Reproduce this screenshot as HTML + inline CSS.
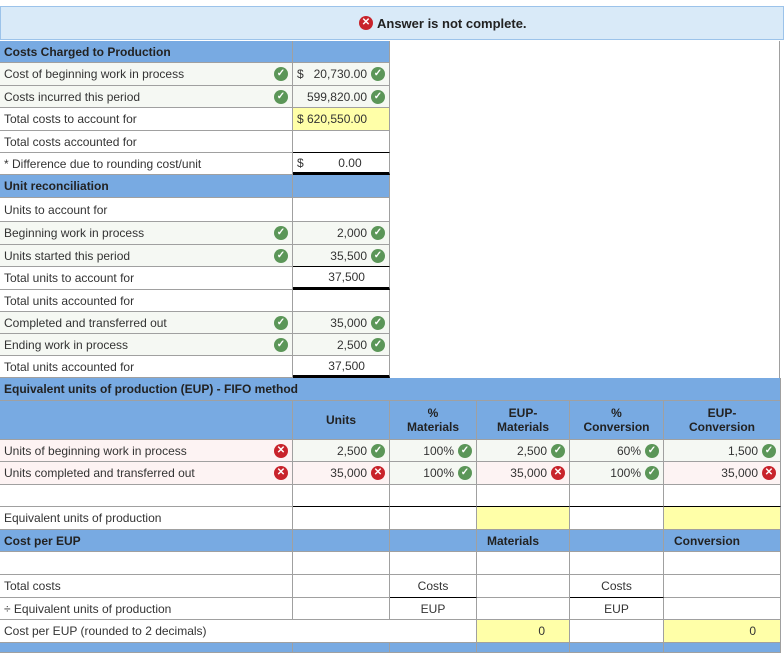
<!DOCTYPE html>
<html><head><meta charset="utf-8"><style>
body{margin:0;width:784px;height:650px;overflow:hidden;background:#fff;font-family:"Liberation Sans",Arial,sans-serif;position:relative}
.c{position:absolute;box-sizing:border-box;border-bottom:1px solid #a0a0a0;border-right:1px solid #a0a0a0;font-size:12px;color:#333;white-space:nowrap;display:flex;align-items:center;padding:0 4px;overflow:hidden}
.h{background:#78aae2;color:#222}
.ok{background:#f5f8f3}.bad{background:#fdf3f3}.y{background:#ffffa8}
.r{justify-content:flex-end}.m{justify-content:center;text-align:center}
.ic{display:inline-block;width:14px;height:14px;border-radius:50%;color:#fff;font-size:10px;line-height:14px;text-align:center;font-weight:bold;margin-left:4px;flex:none}
.g{background:#5b9658}.x{background:#c8232b}
</style></head><body>
<div style="position:absolute;left:0;top:6px;width:782px;height:32px;background:#d9eaf8;border:1px solid #9cc3ea;display:flex;align-items:center;box-sizing:content-box;padding-left:0;font-weight:bold;font-size:13px;color:#222"><span style="display:inline-block;width:358px"></span><span class="ic x" style="margin:0 4px 0 0">✕</span>Answer is not complete.</div>
<div style="position:absolute;left:779px;top:41px;width:1px;height:337px;background:#a0a0a0"></div>
<div id="t"></div>
<script>
const X=[0,293,390,477,570,664,781];
const t=document.getElementById('t');
function cell(c0,c1,top,h,cls,html,name,inter){
  const d=document.createElement('div');
  d.className='c '+cls;
  d.style.left=X[c0]+'px';d.style.top=top+'px';d.style.width=(X[c1]-X[c0])+'px';d.style.height=h+'px';
  d.innerHTML=html;
  
  
  t.appendChild(d);return d;
}
const G='<span class="ic g">✓</span>',R='<span class="ic x">✕</span>';
function lab(t,ic){return '<span style="flex:1">'+t+'</span>'+(ic||'');}
const topRows=[
[41,22,'Costs Charged to Production','h','', '', 'h','head'],
[63,23,'Cost of beginning work in process','ok',G,'<span style="flex:1">$</span>20,730.00'+G,'ok r'],
[86,22,'Costs incurred this period','ok',G,'599,820.00'+G,'ok r'],
[108,23,'Total costs to account for','','','<span style="flex:1">$ 620,550.00</span>','y'],
[131,22,'Total costs accounted for','','','',''],
[153,22,'* Difference due to rounding cost/unit','','','<span style="flex:1">$</span>0.00&nbsp;&nbsp;&nbsp;&nbsp;&nbsp;&nbsp;&nbsp;','r'],
[175,23,'Unit reconciliation','h','','','h','head'],
[198,24,'Units to account for','','','',''],
[222,23,'Beginning work in process','ok',G,'2,000'+G,'ok r'],
[245,22,'Units started this period','ok',G,'35,500'+G,'ok r'],
[267,23,'Total units to account for','','','37,500&nbsp;&nbsp;&nbsp;&nbsp;&nbsp;&nbsp;','r'],
[290,22,'Total units accounted for','','','',''],
[312,22,'Completed and transferred out','ok',G,'35,000'+G,'ok r'],
[334,22,'Ending work in process','ok',G,'2,500'+G,'ok r'],
[356,22,'Total units accounted for','','','37,500&nbsp;&nbsp;&nbsp;&nbsp;&nbsp;&nbsp;','r']
];
topRows.forEach((r,i)=>{
  const a=cell(0,1,r[0],r[1],r[3],lab(r[2],r[4]),'row-label-'+i,false);
  if(r[7]==='head')a.style.fontWeight='bold';
  const b=cell(1,2,r[0],r[1],r[6],r[5],'row-value-'+i,r[7]!=='head');
  if([4,9].includes(i)) b.style.borderBottom='1px solid #000';
  if([5,10,14].includes(i)) b.style.borderBottom='3px solid #000';
});
const eh=cell(0,6,378,23,'h','Equivalent units of production (EUP) - FIFO method','eup-section-header',false);
eh.style.fontWeight='bold';
const colHeads=['Units','%<br>Materials','EUP-<br>Materials','%<br>Conversion','EUP-<br>Conversion'];
cell(0,1,401,39,'h','','eup-header-blank',false);
colHeads.forEach((h,i)=>{const d=cell(i+1,i+2,401,39,'h m',h,'eup-col-header-'+i,false);d.style.fontWeight='bold';});
const eupRows=[
[440,22,'Units of beginning work in process',['2,500'+G,'100%'+G,'2,500'+G,'60%'+G,'1,500'+G],['ok','ok','ok','ok','ok']],
[462,23,'Units completed and transferred out',['35,000'+R,'100%'+G,'35,000'+R,'100%'+G,'35,000'+R],['bad','ok','bad','ok','bad']]
];
eupRows.forEach((r,i)=>{
  cell(0,1,r[0],r[1],'bad',lab(r[2],R),'eup-row-label-'+i,false);
  r[3].forEach((v,j)=>cell(j+1,j+2,r[0],r[1],r[4][j]+' r',v,'eup-row-'+i+'-col-'+j,true));
});
cell(0,1,485,22,'','','blank-row-label',false);
for(let j=1;j<6;j++){const d=cell(j,j+1,485,22,'','','blank-row-cell-'+j,true);d.style.borderBottom='1px solid #000';}
cell(0,1,507,23,'','Equivalent units of production','eup-total-label',false);
['','','y','','y'].forEach((c,j)=>cell(j+1,j+2,507,23,c,'','eup-total-'+j,true));
const cp=cell(0,1,530,22,'h','Cost per EUP','cost-per-eup-header',false);cp.style.fontWeight='bold';
['','','Materials','','Conversion'].forEach((h,j)=>{const d=cell(j+1,j+2,530,22,'h',h,'cost-per-eup-col-'+j,false);d.style.fontWeight='bold';d.style.paddingLeft='10px';});
cell(0,1,552,23,'','','cost-blank-label',false);
for(let j=1;j<6;j++)cell(j,j+1,552,23,'','','cost-blank-'+j,true);
cell(0,1,575,23,'','Total costs','total-costs-label',false);
['','Costs','','Costs',''].forEach((v,j)=>{const d=cell(j+1,j+2,575,23,'m',v,'total-costs-'+j,true);if(j==1||j==3)d.style.borderBottom='1px solid #000';});
cell(0,1,598,22,'','÷ Equivalent units of production','divide-eup-label',false);
['','EUP','','EUP',''].forEach((v,j)=>cell(j+1,j+2,598,22,'m',v,'divide-eup-'+j,true));
cell(0,3,620,23,'','Cost per EUP (rounded to 2 decimals)','cost-per-eup-label',false);
const z1=cell(3,4,620,23,'y r','0','cost-per-eup-materials',true);z1.style.paddingRight='24px';
cell(4,5,620,23,'','','cost-per-eup-blank',false);
const z2=cell(5,6,620,23,'y r','0','cost-per-eup-conversion',true);z2.style.paddingRight='24px';
for(let j=0;j<6;j++)cell(j,j+1,643,10,'h','','footer-bar-'+j,false);
</script>
</body></html>
